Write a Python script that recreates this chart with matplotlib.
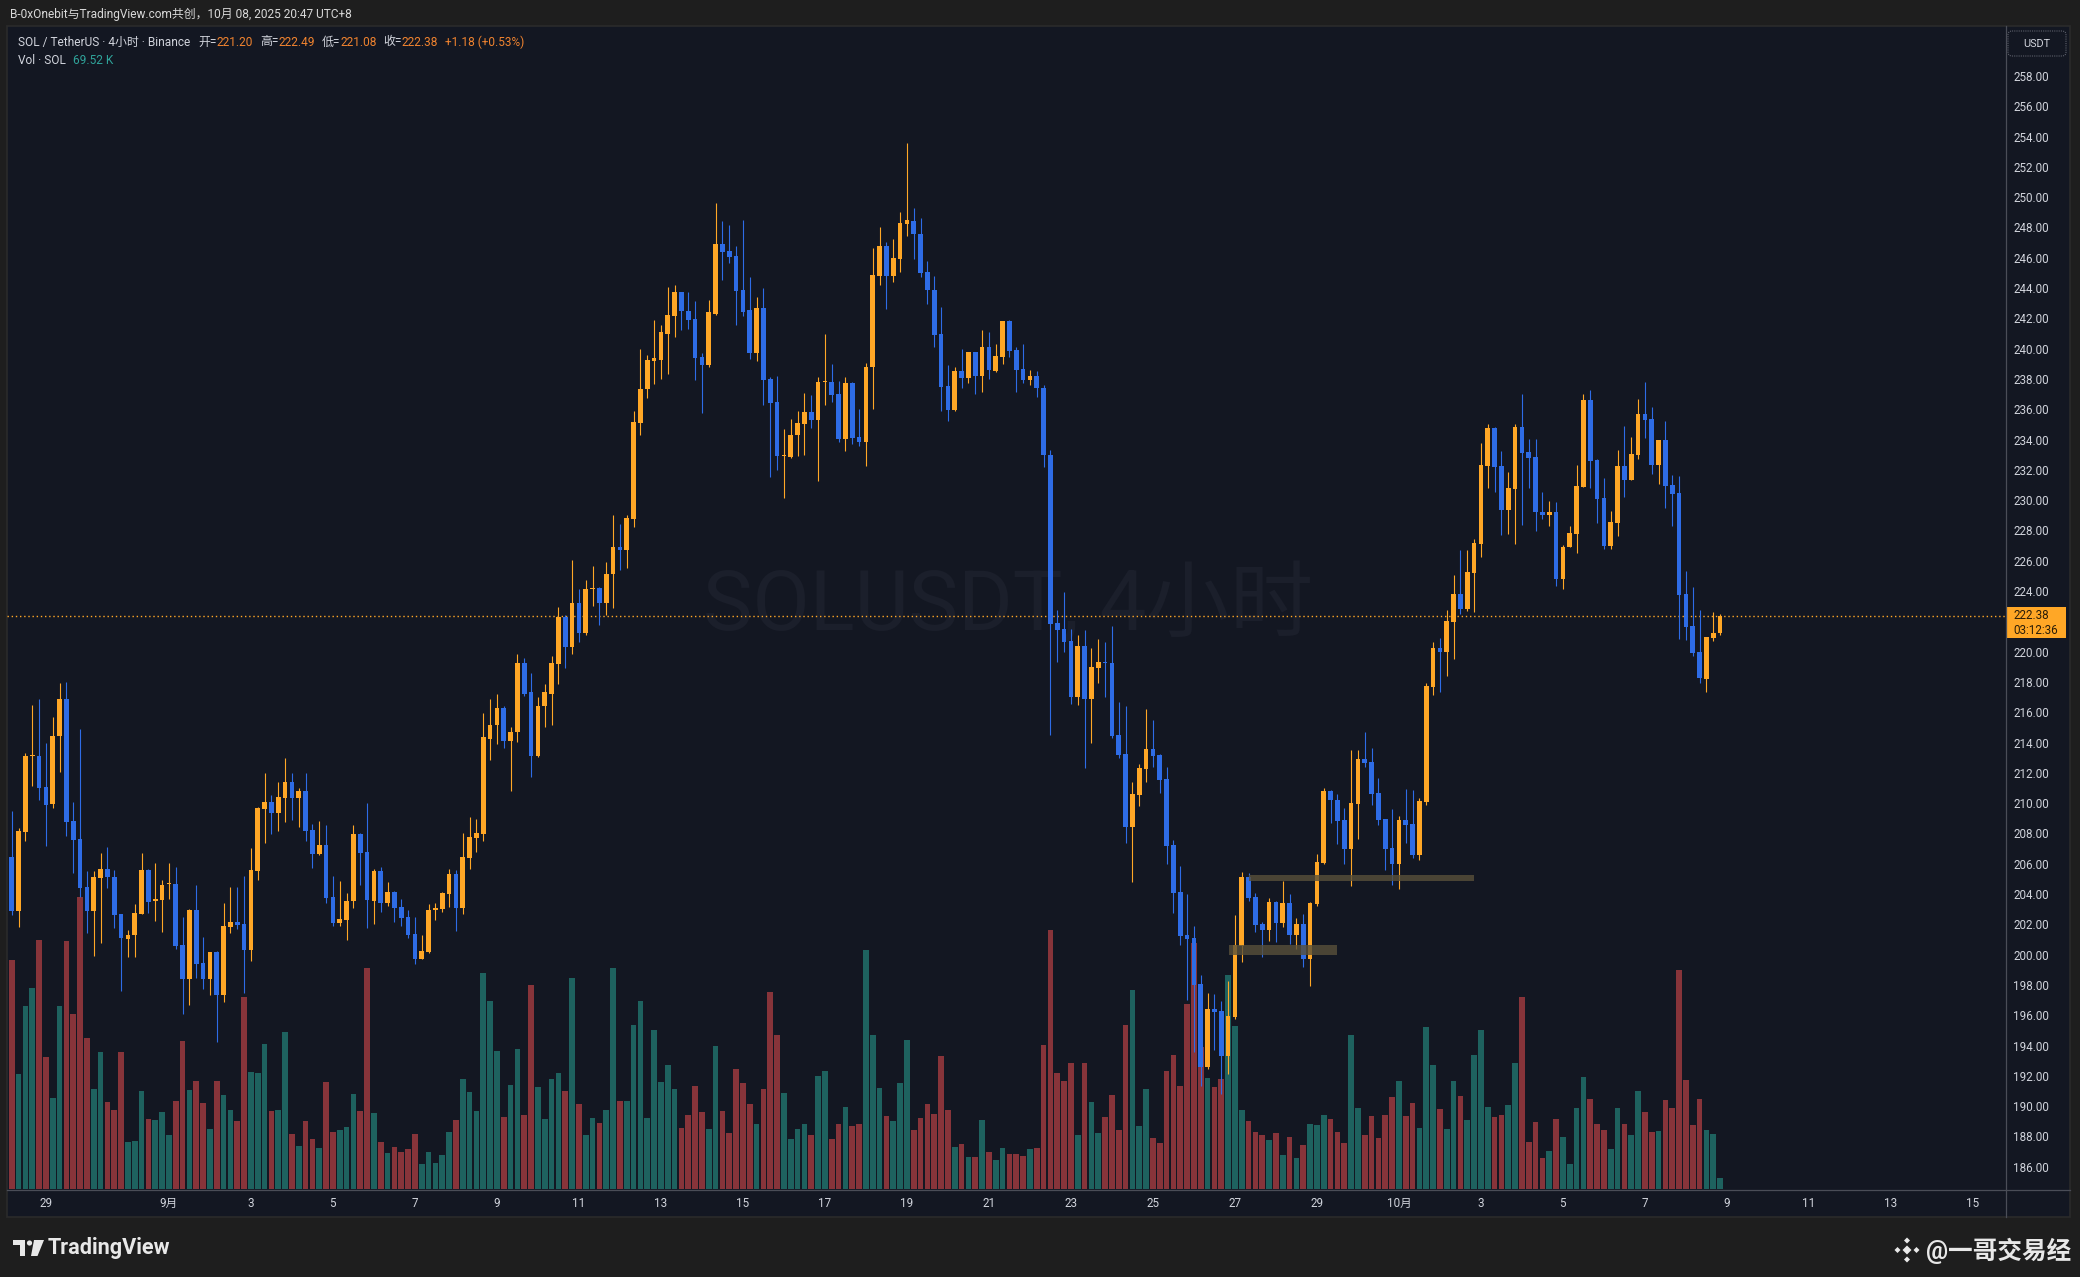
import numpy as np
import pandas as pd
import matplotlib
matplotlib.use("Agg")
import matplotlib.pyplot as plt
from matplotlib.patches import Rectangle, FancyBboxPatch, Polygon, Circle, RegularPolygon

plt.rcParams['font.family'] = ['Roboto', 'Noto Sans CJK SC', 'DejaVu Sans']

# ---------------- data (SOL/USDT 4h, Binance) ----------------
opens = [
    206.45, 202.90, 208.07, 213.10, 213.14, 211.05, 209.95, 214.41, 216.90, 208.80,
    207.61, 204.47, 202.90, 205.08, 205.65, 205.13, 202.68, 201.06, 201.28, 202.71,
    205.59, 203.56, 203.63, 204.64, 204.66, 200.66, 198.37, 202.95, 199.47, 198.37,
    200.20, 197.32, 201.85, 202.18, 202.05, 200.29, 205.54, 209.62, 210.06, 209.33,
    210.32, 211.38, 210.32, 210.78, 208.21, 206.64, 207.22, 203.80, 202.11, 202.31,
    203.53, 207.95, 206.78, 203.53, 205.53, 203.40, 204.15, 203.15, 202.48, 201.35,
    199.72, 200.18, 202.94, 203.02, 203.99, 205.32, 203.07, 206.37, 207.70, 207.95,
    214.26, 215.14, 216.26, 214.13, 214.68, 219.27, 217.31, 213.09, 216.39, 217.23,
    219.19, 222.32, 220.28, 223.24, 221.24, 224.12, 224.20, 223.24, 225.12, 226.92,
    226.71, 228.75, 235.06, 237.32, 239.20, 239.28, 241.00, 242.17, 243.71, 242.50,
    241.95, 239.46, 238.93, 242.31, 246.93, 246.44, 246.13, 243.86, 242.53, 239.73,
    242.66, 238.00, 236.49, 232.93, 232.84, 234.31, 235.02, 235.82, 235.29, 237.80,
    237.82, 237.02, 234.04, 237.73, 234.18, 233.82, 238.76, 244.80, 246.80, 244.80,
    245.95, 248.26, 248.44, 247.55, 245.06, 243.86, 240.98, 237.56, 235.96, 238.53,
    238.09, 239.78, 238.18, 240.09, 238.53, 239.46, 241.82, 239.91, 238.67, 237.91,
    238.20, 237.40, 233.00, 221.90, 221.50, 220.71, 217.00, 220.37, 216.87, 218.92,
    219.32, 219.27, 214.50, 213.24, 208.43, 210.53, 212.27, 213.58, 213.19, 211.61,
    207.24, 204.14, 201.30, 201.11, 198.06, 192.59, 196.43, 196.30, 193.32, 195.88,
    200.59, 205.14, 203.82, 202.03, 201.64, 203.48, 202.08, 203.40, 201.30, 202.03,
    199.72, 203.35, 206.06, 210.79, 210.22, 208.90, 206.98, 209.95, 212.92, 212.73,
    210.67, 208.95, 207.03, 205.97, 208.89, 208.65, 206.59, 210.08, 217.67, 220.24,
    219.97, 221.96, 223.81, 222.81, 225.18, 227.10, 232.25, 234.75, 232.25, 229.37,
    230.74, 234.82, 233.17, 232.87, 229.23, 229.02, 229.23, 224.80, 226.90, 227.75,
    230.87, 236.60, 232.66, 230.16, 226.96, 228.51, 232.25, 231.32, 232.97, 235.68,
    235.37, 232.32, 233.96, 231.01, 230.46, 223.81, 221.68, 219.97, 218.22, 220.89,
    221.20,
]
highs = [
    209.50, 208.34, 213.33, 216.48, 216.90, 214.00, 215.71, 217.93, 218.00, 210.05,
    214.92, 205.52, 205.52, 206.71, 207.11, 205.59, 202.68, 201.63, 203.34, 206.71,
    205.65, 206.05, 204.93, 206.05, 205.79, 202.49, 203.00, 204.60, 201.19, 200.20,
    200.25, 203.41, 204.47, 204.47, 205.19, 207.04, 209.73, 211.97, 210.52, 211.38,
    213.00, 211.97, 210.98, 211.97, 208.60, 208.80, 208.54, 205.19, 204.86, 204.07,
    208.54, 208.03, 210.04, 205.66, 205.78, 204.78, 204.20, 203.69, 202.94, 202.48,
    201.31, 203.36, 203.40, 204.11, 205.66, 205.57, 208.03, 209.08, 208.95, 215.93,
    216.89, 217.18, 216.40, 215.01, 219.86, 219.61, 218.60, 217.02, 217.89, 219.69,
    222.95, 222.40, 226.04, 224.16, 224.70, 225.66, 224.28, 225.91, 229.00, 228.42,
    229.00, 235.86, 239.95, 239.61, 241.91, 241.54, 244.08, 244.21, 243.75, 243.75,
    243.15, 239.73, 243.20, 249.64, 248.44, 248.17, 246.80, 248.48, 244.75, 243.42,
    244.00, 238.13, 238.18, 234.71, 235.33, 235.87, 237.07, 236.93, 238.13, 240.97,
    239.02, 237.87, 238.13, 237.80, 236.00, 239.07, 246.62, 248.04, 247.06, 247.24,
    249.02, 253.59, 249.28, 248.62, 245.77, 244.80, 242.75, 238.93, 238.80, 240.00,
    239.80, 239.80, 241.24, 241.11, 240.31, 241.82, 241.90, 240.09, 240.31, 238.60,
    238.50, 237.60, 233.30, 222.76, 223.97, 221.50, 221.10, 221.42, 220.24, 220.84,
    220.63, 221.69, 216.69, 216.42, 211.40, 212.58, 216.21, 215.50, 213.24, 212.40,
    207.58, 205.85, 204.00, 201.90, 198.67, 197.48, 197.38, 196.96, 198.27, 202.64,
    205.45, 205.40, 204.05, 202.17, 203.74, 203.56, 204.88, 204.00, 202.43, 202.69,
    203.48, 206.64, 211.00, 210.87, 210.61, 209.69, 213.50, 213.50, 214.69, 213.66,
    211.67, 208.95, 209.60, 209.16, 210.94, 210.87, 210.33, 217.91, 220.65, 220.93,
    222.74, 225.08, 226.72, 226.72, 227.45, 233.79, 235.03, 234.82, 233.24, 231.84,
    235.03, 237.02, 234.03, 234.03, 230.53, 229.95, 229.85, 227.03, 228.30, 232.32,
    236.98, 237.29, 232.70, 231.46, 229.30, 233.31, 234.89, 234.17, 236.67, 237.81,
    236.16, 234.00, 235.23, 231.66, 231.59, 225.32, 224.29, 222.74, 221.00, 222.61,
    222.49,
]
lows = [
    202.60, 201.80, 207.50, 211.13, 210.20, 207.17, 209.66, 212.06, 207.83, 205.41,
    203.83, 201.41, 199.89, 200.75, 204.40, 201.74, 197.58, 199.82, 199.82, 202.70,
    202.77, 202.24, 201.52, 203.70, 200.35, 196.08, 196.68, 198.44, 197.71, 197.32,
    194.24, 196.88, 201.45, 201.72, 197.45, 199.56, 204.95, 207.40, 207.97, 208.14,
    208.74, 208.87, 208.40, 207.48, 205.72, 206.58, 203.43, 201.91, 201.91, 200.99,
    203.07, 204.61, 201.73, 202.02, 202.81, 203.23, 202.15, 201.90, 201.10, 199.39,
    199.70, 200.10, 202.27, 202.81, 203.15, 201.56, 202.69, 205.66, 206.78, 207.49,
    212.88, 213.92, 213.63, 210.83, 214.01, 217.10, 211.75, 213.05, 215.05, 215.18,
    217.89, 218.90, 219.82, 220.61, 221.07, 223.03, 221.78, 222.41, 222.91, 225.41,
    225.54, 228.21, 234.27, 236.77, 237.65, 237.99, 238.36, 240.74, 241.24, 241.33,
    237.91, 235.73, 238.80, 242.20, 244.53, 245.64, 241.55, 242.17, 239.29, 239.20,
    236.27, 231.51, 232.00, 230.14, 232.80, 232.89, 232.98, 234.76, 231.25, 236.27,
    236.49, 233.82, 233.25, 233.69, 233.56, 232.27, 236.00, 244.22, 242.62, 244.40,
    245.06, 247.42, 245.95, 244.71, 242.93, 240.09, 235.87, 235.20, 235.90, 237.42,
    237.73, 236.98, 237.11, 238.00, 238.44, 238.98, 239.46, 237.16, 237.73, 237.60,
    236.80, 232.20, 214.53, 219.34, 219.95, 216.55, 216.45, 212.35, 213.98, 217.90,
    216.98, 214.32, 212.95, 207.40, 204.82, 209.82, 211.42, 212.40, 210.66, 206.00,
    202.72, 200.66, 197.01, 193.56, 191.33, 192.48, 193.74, 190.80, 192.11, 195.75,
    199.53, 203.56, 201.50, 199.88, 200.90, 200.85, 201.82, 200.72, 200.35, 199.22,
    197.95, 203.22, 206.00, 208.69, 207.32, 205.98, 204.53, 207.64, 212.42, 209.85,
    208.54, 205.56, 204.63, 204.32, 207.38, 206.38, 206.28, 209.85, 217.15, 217.32,
    218.39, 219.52, 222.47, 222.71, 222.61, 226.24, 230.81, 230.53, 227.72, 227.75,
    227.10, 228.37, 230.77, 227.96, 228.75, 228.27, 224.36, 224.12, 226.88, 226.48,
    230.85, 230.77, 228.47, 226.76, 226.76, 227.62, 230.22, 231.30, 232.69, 234.07,
    231.70, 231.05, 229.47, 228.27, 220.82, 220.76, 219.73, 217.91, 217.32, 220.69,
    221.08,
]
closes = [
    202.90, 208.14, 213.14, 213.15, 211.00, 209.88, 214.46, 216.90, 208.74, 207.57,
    204.42, 202.90, 205.13, 205.65, 205.15, 202.64, 201.08, 201.32, 202.75, 205.59,
    203.50, 203.70, 204.60, 204.66, 200.60, 198.42, 202.95, 199.36, 198.37, 200.20,
    197.32, 201.91, 202.18, 201.98, 200.29, 205.59, 209.66, 210.06, 209.33, 210.39,
    211.38, 210.32, 210.78, 208.14, 206.64, 207.22, 203.76, 202.11, 202.38, 203.56,
    207.95, 206.70, 203.61, 205.53, 203.40, 204.15, 203.07, 202.44, 201.31, 199.72,
    200.27, 202.94, 203.07, 204.07, 205.32, 203.07, 206.45, 207.74, 208.03, 214.34,
    215.14, 216.26, 214.13, 214.72, 219.27, 217.23, 213.09, 216.43, 217.31, 219.27,
    222.32, 220.28, 223.24, 221.24, 224.16, 224.20, 223.24, 225.12, 226.92, 226.71,
    228.84, 235.15, 237.36, 239.24, 239.37, 241.08, 242.25, 243.71, 242.46, 241.91,
    239.40, 238.93, 242.44, 246.93, 246.40, 246.04, 243.82, 242.44, 239.73, 242.66,
    237.91, 236.40, 232.89, 232.98, 234.31, 235.11, 235.82, 235.29, 237.78, 237.85,
    236.93, 234.04, 237.73, 234.09, 233.82, 238.80, 244.84, 246.80, 244.80, 246.00,
    248.31, 248.48, 247.55, 244.97, 243.86, 240.89, 237.47, 235.96, 238.53, 238.09,
    239.78, 238.18, 240.09, 238.62, 239.51, 241.82, 239.87, 238.58, 237.91, 238.20,
    237.40, 233.00, 221.84, 221.45, 220.63, 217.00, 220.37, 216.87, 219.00, 219.32,
    219.27, 214.43, 213.19, 208.43, 210.61, 212.32, 213.58, 213.11, 211.53, 207.16,
    204.08, 201.24, 201.04, 198.01, 192.59, 196.43, 196.22, 193.32, 195.95, 200.64,
    205.14, 203.74, 201.95, 201.66, 203.48, 202.08, 203.40, 201.30, 202.03, 199.72,
    203.40, 206.11, 210.79, 210.22, 208.82, 206.98, 210.00, 212.92, 212.66, 210.60,
    208.89, 207.00, 205.97, 208.89, 208.58, 206.59, 210.15, 217.74, 220.24, 220.00,
    222.02, 223.81, 222.81, 225.25, 227.17, 232.32, 234.75, 232.18, 229.37, 230.81,
    234.82, 233.11, 232.80, 229.23, 229.02, 229.23, 224.80, 226.90, 227.82, 230.94,
    236.60, 232.59, 230.09, 226.96, 228.58, 232.25, 231.32, 233.04, 235.68, 235.30,
    232.32, 233.96, 230.94, 230.40, 223.74, 221.65, 219.93, 218.25, 220.96, 221.20,
    222.38,
]
# volume in thousand SOL
volumes = [
    1451, 727, 1160, 1272, 1577, 833, 576, 1155, 1570, 1110,
    1847, 952, 632, 865, 550, 500, 865, 297, 303, 619,
    442, 437, 487, 342, 556, 933, 627, 682, 543, 379,
    682, 595, 500, 429, 1212, 740, 733, 915, 493, 500,
    991, 348, 273, 429, 316, 260, 677, 361, 374, 390,
    599, 491, 1400, 479, 295, 227, 263, 235, 251, 351,
    159, 235, 163, 215, 359, 435, 695, 611, 491, 1368,
    1192, 875, 455, 655, 888, 467, 1292, 643, 443, 695,
    731, 620, 1332, 535, 339, 447, 415, 499, 1396, 555,
    555, 1040, 1188, 447, 1004, 675, 784, 631, 383, 467,
    650, 489, 378, 906, 493, 352, 757, 672, 535, 412,
    633, 1246, 974, 608, 314, 378, 412, 340, 714, 748,
    314, 412, 518, 399, 412, 1510, 974, 637, 463, 429,
    672, 944, 374, 450, 535, 476, 842, 501, 267, 284,
    204, 204, 438, 233, 182, 259, 220, 220, 208, 252,
    260, 910, 1638, 733, 683, 797, 340, 797, 550, 353,
    456, 595, 373, 1036, 1258, 398, 633, 323, 290, 746,
    847, 650, 1170, 1555, 897, 701, 645, 696, 1353, 1031,
    499, 431, 361, 340, 310, 353, 214, 328, 197, 277,
    411, 403, 469, 444, 361, 290, 973, 512, 340, 461,
    323, 467, 582, 684, 461, 543, 385, 1023, 783, 507,
    378, 684, 589, 438, 849, 1006, 520, 454, 467, 530,
    796, 1214, 296, 425, 194, 240, 441, 329, 158, 513,
    707, 569, 412, 372, 253, 513, 412, 342, 618, 487,
    359, 365, 563, 513, 1384, 688, 405, 569, 372, 349,
    69.52,
]

first_bar = pd.Timestamp('2025-08-28 04:00')
bar_len = pd.Timedelta(hours=4)

tick_dates = ['2025-08-29', '2025-09-01', '2025-09-03', '2025-09-05', '2025-09-07',
              '2025-09-09', '2025-09-11', '2025-09-13', '2025-09-15', '2025-09-17',
              '2025-09-19', '2025-09-21', '2025-09-23', '2025-09-25', '2025-09-27',
              '2025-09-29', '2025-10-01', '2025-10-03', '2025-10-05', '2025-10-07',
              '2025-10-09', '2025-10-11', '2025-10-13', '2025-10-15']
tick_labels = ['29', '9月', '3', '5', '7', '9', '11', '13', '15', '17', '19', '21',
               '23', '25', '27', '29', '10月', '3', '5', '7', '9', '11', '13', '15']
price_ticks = [186, 188, 190, 192, 194, 196, 198, 200, 202, 204, 206, 208, 210, 212,
               214, 216, 218, 220, 224, 226, 228, 230, 232, 234, 236, 238, 240, 242,
               244, 246, 248, 250, 252, 254, 256, 258]

# drawn support zones
zone_start = ['2025-09-26 20:30', '2025-09-27 08:30']
zone_end = ['2025-09-29 11:30', '2025-10-02 20:00']
zone_low = [199.95, 204.85]
zone_high = [200.64, 205.27]

# ---------------- figure ----------------
W, H = 2080, 1277
UP, DOWN = '#ffa726', '#2e6ce6'
VUP, VDOWN = '#1e625f', '#87343a'
BG, OUTER = '#131722', '#1e1e1e'
TXT = '#d1d4dc'
BOTTOM = 1189   # pixel row of the time-scale border


def rect(x0, y0, x1, y1):
    return [x0 / W, 1 - y1 / H, (x1 - x0) / W, (y1 - y0) / H]


def pos(t):
    return (pd.Timestamp(t) - first_bar) / bar_len


fig = plt.figure(figsize=(W / 100, H / 100), dpi=100, facecolor=OUTER)

bg = fig.add_axes([0, 0, 1, 1], zorder=0)
bg.set_xlim(0, W)
bg.set_ylim(H, 0)
bg.axis('off')
bg.add_patch(Rectangle((7, 26), 2063, 1191, fc=BG, ec='#2b2b2b', lw=1.2))
bg.text(1008, 606, 'SOLUSDT, 4小时', color='#1b1f2b', fontsize=60,
        ha='center', va='center')

o = np.array(opens)
h = np.array(highs)
l = np.array(lows)
c = np.array(closes)
v = np.array(volumes)
x = np.arange(len(c))
up = c >= o
cols = np.where(up, UP, DOWN)

xlim = (-0.69, 291.7)

axv = fig.add_axes(rect(7, 27, 2005, BOTTOM), zorder=1)
axv.set_facecolor('none')
axv.bar(x, v, width=0.84, color=np.where(up, VUP, VDOWN), linewidth=0)
axv.set_xlim(*xlim)
axv.set_ylim(0, 7350)
axv.axis('off')

ax = fig.add_axes(rect(7, 27, 2005, BOTTOM), zorder=2)
ax.set_facecolor('none')
ax.axhline(c[-1], color=UP, lw=1.0, ls=(0, (1, 2)), zorder=1)
ax.vlines(x, l, h, colors=cols, lw=0.8, zorder=2)
ax.bar(x, np.maximum(np.abs(c - o), 0.07), bottom=np.minimum(o, c), width=0.68,
       color=cols, linewidth=0, zorder=3)
for s, e, lo, hi in zip(zone_start, zone_end, zone_low, zone_high):
    ax.add_patch(Rectangle((pos(s), lo), pos(e) - pos(s), hi - lo,
                           fc='#58503a', alpha=0.8, lw=0, zorder=4))
ax.set_xlim(*xlim)
ax.set_ylim(258 - (BOTTOM - 76) / 15.15, 261.23)
for sp in ax.spines.values():
    sp.set_visible(False)
ax.yaxis.tick_right()
ax.set_yticks(price_ticks)
ax.set_yticklabels([f'{p:.2f}' for p in price_ticks])
ax.set_xticks([pos(d) for d in tick_dates])
ax.set_xticklabels(tick_labels)
ax.tick_params(axis='y', length=0, pad=6, labelsize=8.4, labelcolor=TXT)
ax.tick_params(axis='x', length=0, pad=5.6, labelsize=8.4, labelcolor=TXT)

# ---------------- overlay: scales, header, footer ----------------
ov = fig.add_axes([0, 0, 1, 1], zorder=3)
ov.set_xlim(0, W)
ov.set_ylim(H, 0)
ov.axis('off')
ov.plot([2005.5, 2005.5], [26, 1217], color='#4a4d57', lw=0.9)
ov.plot([7, 2070], [BOTTOM + 0.5, BOTTOM + 0.5], color='#4a4d57', lw=0.9)

ov.add_patch(FancyBboxPatch((2008, 31), 58, 25, boxstyle='round,pad=0,rounding_size=4',
                            fc=BG, ec='#5d606b', lw=0.8, ls=(0, (1, 1))))
ov.text(2037, 44, 'USDT', color=TXT, fontsize=7.8, ha='center', va='center')

ov.add_patch(Rectangle((2006, 607), 60, 31, fc=UP, lw=0))
ov.text(2013, 615.5, f'{c[-1]:.2f}', color='#2a1d08', fontsize=8.4, va='center')
ov.text(2013, 630, '03:12:36', color='#2a1d08', fontsize=8.4, va='center')

ov.text(10, 14, 'B-0xOnebit与TradingView.com共创，10月 08, 2025 20:47 UTC+8',
        color='#d9d9d9', fontsize=8.6, va='center')

renderer = fig.canvas.get_renderer()


def chain(x0, y0, parts, size):
    for s, col, gap in parts:
        t = ov.text(x0, y0, s, color=col, fontsize=size, va='center', ha='left')
        x0 += t.get_window_extent(renderer=renderer).width + gap


VAL = '#f0832f'
chg = c[-1] - c[-2]
pct = chg / c[-2] * 100
chain(18, 42, [('SOL / TetherUS · 4小时 · Binance', TXT, 8),
               ('开=', TXT, 0), (f'{o[-1]:.2f}', VAL, 7),
               ('高=', TXT, 0), (f'{h[-1]:.2f}', VAL, 7),
               ('低=', TXT, 0), (f'{l[-1]:.2f}', VAL, 7),
               ('收=', TXT, 0), (f'{c[-1]:.2f}', VAL, 7),
               (f'+{chg:.2f} (+{pct:.2f}%)', VAL, 0)], 8.6)
chain(18, 61, [('Vol · SOL', TXT, 7), (f'{v[-1]:.2f} K', '#2fa39a', 0)], 8.6)

# TradingView logo
LOGO = '#e8e8e8'
ov.add_patch(Polygon([(13, 1240), (25, 1240), (25, 1256), (19.5, 1256), (19.5, 1245),
                      (13, 1245)], closed=True, fc=LOGO, lw=0))
ov.add_patch(Circle((29.5, 1243), 2.6, fc=LOGO, lw=0))
ov.add_patch(Polygon([(34, 1240), (44, 1240), (37.5, 1256), (31, 1256)], closed=True,
                     fc=LOGO, lw=0))
ov.text(48, 1248, 'TradingView', color=LOGO, fontsize=15.6, fontweight='bold',
        va='center', ha='left')

# Binance mark + author
for cx, cy, r in [(1907, 1250, 4.5), (1907, 1240.5, 3), (1907, 1259.5, 3),
                  (1897.5, 1250, 3), (1916.5, 1250, 3)]:
    ov.add_patch(RegularPolygon((cx, cy), 4, radius=r, orientation=0, fc=LOGO, lw=0))
ov.text(1926, 1251, '@一哥交易经', color=LOGO, fontsize=17.7, fontweight='bold',
        va='center', ha='left')

fig.savefig('out.png', dpi=100, facecolor=OUTER)
